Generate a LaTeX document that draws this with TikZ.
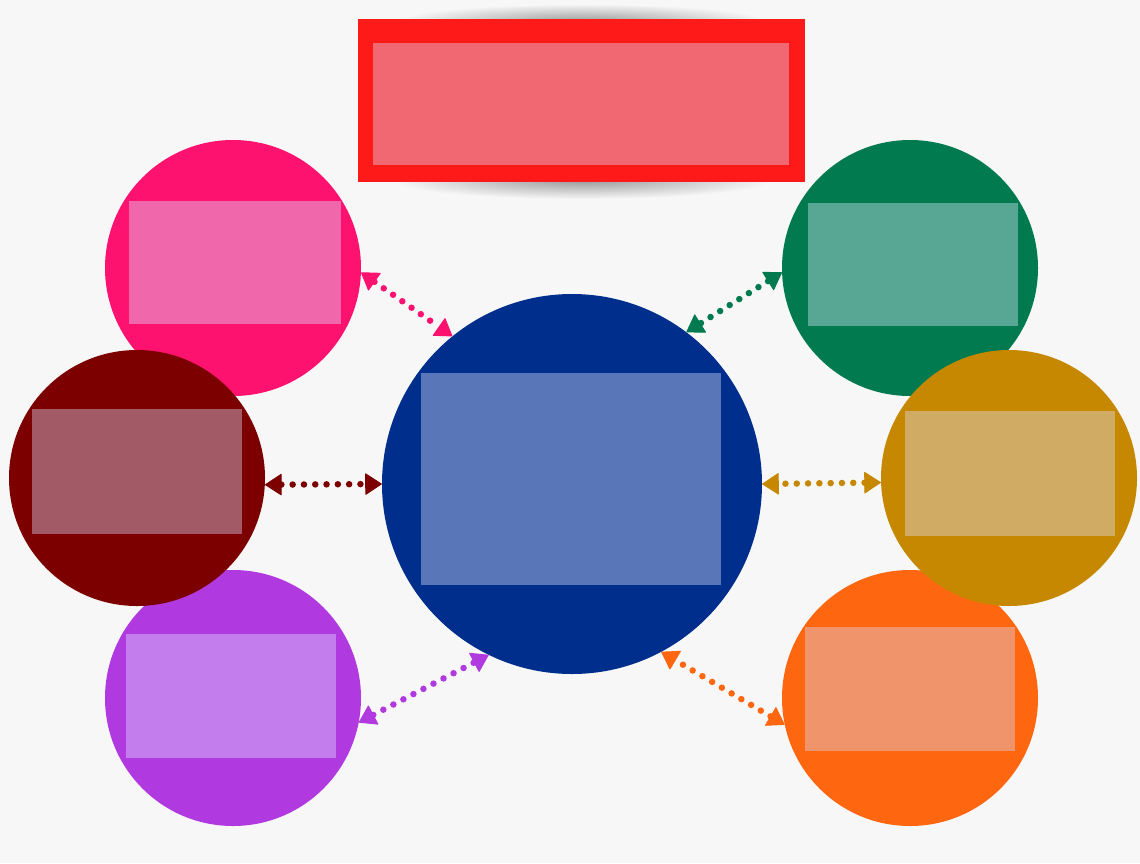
\documentclass[tikz,border=0pt]{standalone}
\usetikzlibrary{arrows.meta,fit}
\definecolor{bg}{HTML}{F7F7F7}
\definecolor{tred}{HTML}{FF1A1A}
\definecolor{tredin}{HTML}{F26872}
\definecolor{cblue}{HTML}{002E8C}
\definecolor{cbluein}{HTML}{5876B8}
\definecolor{cpink}{HTML}{FD1270}
\definecolor{cpinkin}{HTML}{F067AC}
\definecolor{cdred}{HTML}{7D0000}
\definecolor{cdredin}{HTML}{A25B66}
\definecolor{cpurple}{HTML}{B03AE0}
\definecolor{cpurplein}{HTML}{C47DEC}
\definecolor{cgreen}{HTML}{007A4E}
\definecolor{cgreenin}{HTML}{58A795}
\definecolor{cgold}{HTML}{C58800}
\definecolor{cgoldin}{HTML}{D0AB64}
\definecolor{corange}{HTML}{FF6610}
\definecolor{corangein}{HTML}{F0956B}
\tikzset{
  disc/.style={circle, inner sep=0pt, minimum size=#1, draw=none},
  panel/.style={inner sep=0pt, draw=none},
  link/.style={line width=6.5pt, line cap=round, dash pattern=on 0pt off 11.3pt,
    {Triangle[length=17pt,width=22pt,line width=1pt,round]}-{Triangle[length=17pt,width=22pt,line width=1pt,round]}}
}
\begin{document}
\begin{tikzpicture}[x=1pt,y=-1pt]
\fill[bg] (0,0) rectangle (1140,863);
\useasboundingbox (0,0) rectangle (1140,863);
% title shadow
\shade[inner color=black!38, outer color=bg] (582,21) ellipse (185pt and 17pt);
\shade[inner color=black!40, outer color=bg] (582,180) ellipse (190pt and 19pt);
% title
\node (title) [panel, fill=tred, fit={(358,19) (805,182)}] {};
\node (titlein) [panel, fill=tredin, fit={(373,43) (789,165)}] {};
% circles
\node (pink) [disc=256pt, fill=cpink] at (233,268) {};
\node (purple) [disc=256pt, fill=cpurple] at (233,698) {};
\node (dred) [disc=256pt, fill=cdred] at (137,478) {};
\node (green) [disc=256pt, fill=cgreen] at (910,268) {};
\node (orange) [disc=256pt, fill=corange] at (910,698) {};
\node (gold) [disc=256pt, fill=cgold] at (1009,478) {};
\node (blue) [disc=380pt, fill=cblue] at (572,484) {};
% panels
\node (pinkin) [panel, fill=cpinkin, fit={(129,201) (341,324)}] {};
\node (dredin) [panel, fill=cdredin, fit={(32,409) (242,534)}] {};
\node (purplein) [panel, fill=cpurplein, fit={(126,634) (336,758)}] {};
\node (greenin) [panel, fill=cgreenin, fit={(808,203) (1018,326)}] {};
\node (goldin) [panel, fill=cgoldin, fit={(905,411) (1115,536)}] {};
\node (orangein) [panel, fill=corangein, fit={(805,627) (1015,751)}] {};
\node (bluein) [panel, fill=cbluein, fit={(421,373) (721,585)}] {};
% links
\draw[link, cpink] (pink.-2) -- (blue.129);
\draw[link, cdred] (dred.-3) -- (blue.180);
\draw[link, cpurple] (purple.-11) -- (blue.244);
\draw[link, cgreen] (green.182) -- (blue.53);
\draw[link, cgold] (gold.182) -- (blue.0);
\draw[link, corange] (orange.192) -- (blue.-62);
\end{tikzpicture}
\end{document}
